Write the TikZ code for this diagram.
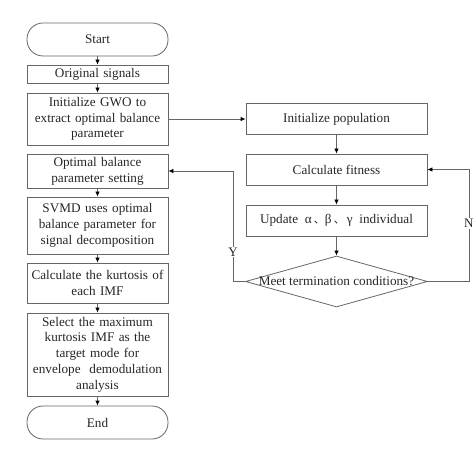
\documentclass[tikz,border=0pt]{standalone}
\usepackage{fontspec}
\setmainfont{Liberation Serif}
\newfontfamily\cjk{Noto Sans CJK SC}
\usepackage{tikz}
\usetikzlibrary{arrows.meta,shapes.geometric}
\tikzset{
  flowbox/.style={draw=black!60,line width=0.8pt,text=black!85,align=center,inner sep=1pt,font=\fontsize{13.2}{15.8}\selectfont},
  leftbox/.style={flowbox,minimum width=141pt,text width=139pt},
  rightbox/.style={flowbox,minimum width=181pt,minimum height=31pt},
  terminal/.style={leftbox,rounded corners=16pt},
  flowline/.style={draw=black!60,line width=0.8pt,-{Latex[length=5pt,width=4.5pt,color=black]}},
  yesno/.style={fill=white,inner sep=1pt,text=black!85,font=\fontsize{13}{14}\selectfont}
}
\begin{document}
\begin{tikzpicture}[x=1pt,y=-1pt]
\useasboundingbox (0,0) rectangle (474,470);
\node[terminal,minimum height=33pt] (start) at (97.5,39.5) {Start};
\node[leftbox,minimum height=18pt] (orig) at (97.5,74) {Original signals};
\node[leftbox,minimum height=52pt] (gwo) at (97.5,119) {Initialize GWO to\\extract optimal balance\\parameter};
\node[leftbox,minimum height=34pt] (opt) at (97.5,171) {Optimal balance\\parameter setting};
\node[leftbox,minimum height=57pt] (svmd) at (97.5,225.5) {SVMD uses optimal\\balance parameter for\\signal decomposition};
\node[leftbox,minimum height=40pt] (kurt) at (97.5,283) {Calculate the kurtosis of\\each IMF};
\node[leftbox,minimum height=83pt] (sel) at (97.5,354.5) {Select the maximum\\kurtosis IMF as the\\target mode for\\envelope\ \ demodulation\\analysis};
\node[terminal,minimum height=33pt] (end) at (97.5,422.5) {End};

\node[rightbox] (pop) at (336.5,119) {Initialize population};
\node[rightbox] (fit) at (336.5,169.5) {Calculate fitness};
\node[rightbox] (upd) at (336.5,220.5) {Update \ α\,{\cjk\fontsize{11}{12}\selectfont 、}β\,{\cjk\fontsize{11}{12}\selectfont 、}\,γ\ \ individual};
\node[diamond,draw=black!60,line width=0.8pt,minimum width=182pt,minimum height=51pt,inner sep=0pt] (cond) at (336.5,281.5) {};
\node[text=black!85,font=\fontsize{13.2}{15}\selectfont,inner sep=0pt] (condtext) at (cond) {Meet termination conditions?};

\draw[flowline] (start) -- (orig);
\draw[flowline] (orig) -- (gwo);
\draw[flowline] (gwo) -- (pop);
\draw[flowline] (opt) -- (svmd);
\draw[flowline] (svmd) -- (kurt);
\draw[flowline] (kurt) -- (sel);
\draw[flowline] (sel) -- (end);
\draw[flowline] (pop) -- (fit);
\draw[flowline] (fit) -- (upd);
\draw[flowline] (upd) -- (cond);
\draw[flowline] (cond.west) -- ++(-12,0) |- node[yesno,pos=0.134] {Y} (opt.east);
\draw[flowline] (cond.east) -- ++(41,0) |- node[yesno,pos=0.26] {N} (fit.east);
\end{tikzpicture}
\end{document}
